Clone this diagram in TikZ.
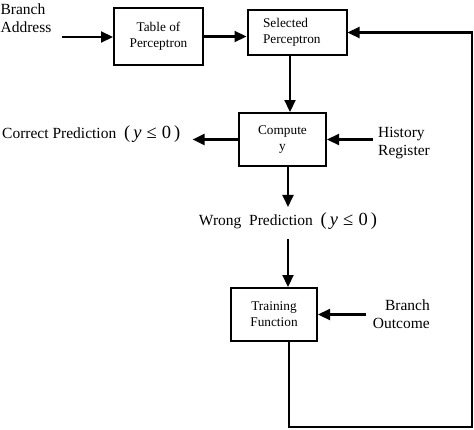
\documentclass[tikz,border=0pt]{standalone}
\usepackage{fontspec}
\setmainfont{Liberation Serif}
\usepackage{tikz}
\usetikzlibrary{arrows.meta, positioning}

\newcommand{\ycond}{{\fontsize{18.5}{18.5}\selectfont(\,\textit{y}\;≤\;0\,)}}

\begin{document}
\begin{tikzpicture}[
    x=1pt, y=-1pt,
    unitbox/.style={draw, line width=2pt, align=center, inner sep=0pt,
        font=\fontsize{13.3}{16}\selectfont},
    sidelabel/.style={inner sep=0pt, font=\fontsize{15.5}{18}\selectfont},
    flow/.style={line width=2.2pt, -{Triangle[length=12pt,width=11pt]}}
]

% Frame of the picture
\useasboundingbox (0,0) rectangle (474,429);

% Boxes
\node[unitbox, minimum width=89pt, minimum height=57pt] (table) at (158.5,36.5) {Table of\\Perceptron};
\node[unitbox, minimum width=99pt, minimum height=45pt, align=left, text width=68pt] (selected) at (297,32.5) {Selected\\Perceptron};
\node[unitbox, minimum width=87pt, minimum height=53pt] (compute) at (282.5,139.5) {Compute\\y};
\node[unitbox, minimum width=86pt, minimum height=53pt] (training) at (274,314.5) {Training\\Function};

% Labels
\node[sidelabel, align=left] (address) at (26,18) {Branch\\Address};
\node[sidelabel, anchor=base west] (correct) at (2,138) {Correct Prediction\ \ \ycond};
\node[sidelabel, align=left, anchor=west] (history) at (378,143) {History\\Register};
\node[sidelabel, anchor=base] (wrong) at (288,225) {Wrong\ \ Prediction\ \ \ycond};
\node[sidelabel, align=right, anchor=east] (outcome) at (430,314) {Branch\\Outcome};

% Free ends
\coordinate (addrin) at (62,37);
\coordinate (corner) at (472,427);

% Forward path
\draw[flow] (addrin) -- (addrin -| table.west);
\draw[flow] (table.east) -- (table.east -| selected.west);
\draw[flow] ([xshift=-7pt]selected.south) -- ([xshift=-7pt]selected.south |- compute.north);
\draw[flow] (compute.west) -- ([xshift=12pt]correct.east |- compute.west);
\draw[flow] ([xshift=-5pt]history.west |- compute.east) -- (compute.east);
\draw[flow] (compute.south -| wrong.north) -- ([yshift=5pt]wrong.north);
\draw[flow] ([yshift=-10pt]wrong.south) -- (wrong.south |- training.north);
\draw[flow] ([xshift=-7pt]outcome.west |- training.east) -- (training.east);

% Feedback to selected perceptron
\draw[flow] ([xshift=15pt]training.south) |- (corner) |- (selected.east);

\end{tikzpicture}
\end{document}
